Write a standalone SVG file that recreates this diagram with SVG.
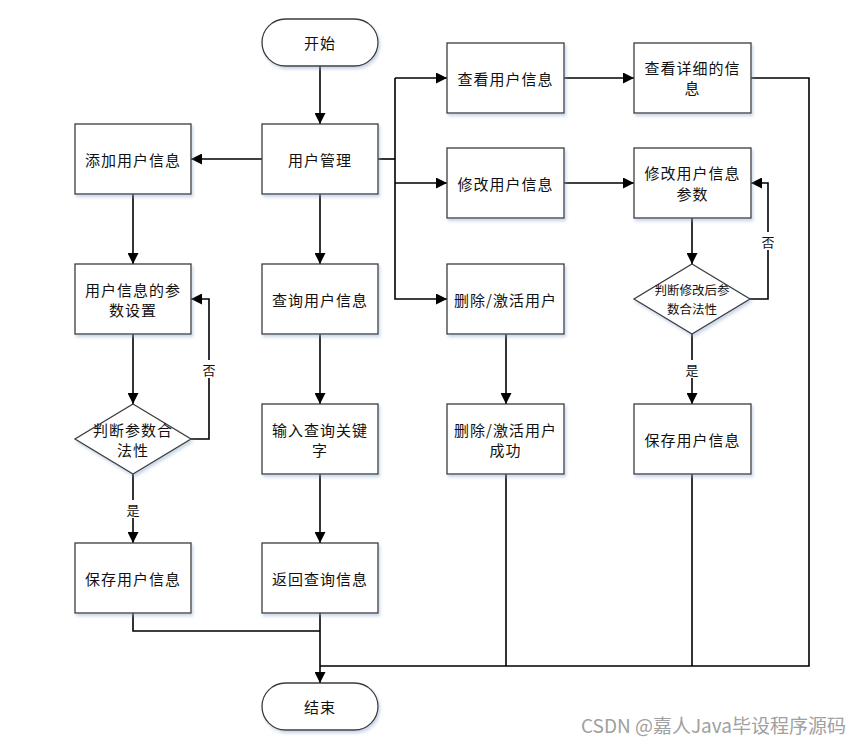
<svg xmlns="http://www.w3.org/2000/svg" width="861" height="746" viewBox="0 0 861 746">
<defs>
<style>
.box{fill:#ffffff;stroke:#3c3c3c;stroke-width:1.3;filter:url(#sh)}
.t{font-family:"Noto Sans CJK SC","Liberation Sans",sans-serif;font-size:15px;fill:#111;text-anchor:middle;dominant-baseline:central;letter-spacing:1px}
.ts{font-family:"Noto Sans CJK SC","Liberation Sans",sans-serif;font-size:13px;fill:#111;text-anchor:middle;dominant-baseline:central}
.tx{font-family:"Noto Sans CJK SC","Liberation Sans",sans-serif;font-size:12.5px;fill:#111;text-anchor:middle;dominant-baseline:central}
.c{fill:none;stroke:#000;stroke-width:1.6}
.a{marker-end:url(#ah)}
.lbg{fill:#fff}
</style>
<filter id="sh" x="-10%" y="-10%" width="130%" height="140%">
<feDropShadow dx="1.5" dy="2.5" stdDeviation="1.5" flood-color="#8aa4cc" flood-opacity="0.45"/>
</filter>
<marker id="ah" viewBox="0 0 10 10" refX="10" refY="5" markerWidth="11" markerHeight="11" orient="auto" markerUnits="userSpaceOnUse">
<path d="M0,0 L10,5 L0,10 z" fill="#000"/>
</marker>
</defs>
<rect width="861" height="746" fill="#fff"/>

<g id="connectors">
<path class="c a" d="M320,66 V124"/>
<path class="c a" d="M262,159 H191"/>
<path class="c" d="M378,159 H395"/>
<path class="c a" d="M395,78 V299 H447"/>
<path class="c a" d="M395,78 H447"/>
<path class="c a" d="M395,183 H447"/>
<path class="c a" d="M133,194 V264"/>
<path class="c a" d="M320,194 V264"/>
<path class="c a" d="M133,334 V404"/>
<path class="c a" d="M191,439 H209 V299 H191"/>
<path class="c a" d="M133,474 V543"/>
<path class="c a" d="M320,334 V404"/>
<path class="c a" d="M320,474 V543"/>
<path class="c a" d="M564,78 H634"/>
<path class="c a" d="M564,183 H634"/>
<path class="c a" d="M506,334 V404"/>
<path class="c a" d="M692,218 V264"/>
<path class="c a" d="M750,299 H768 V183 H751"/>
<path class="c a" d="M692,334 V404"/>
<path class="c" d="M751,78 H809 V666 H320"/>
<path class="c" d="M506,474 V666"/>
<path class="c" d="M692,474 V666"/>
<path class="c" d="M133,613 V631 H320"/>
<path class="c a" d="M320,613 V683"/>
<rect class="lbg" x="201" y="360" width="16" height="18"/>
<text class="ts" x="209" y="369">否</text>
<rect class="lbg" x="125" y="500" width="16" height="18"/>
<text class="ts" x="133" y="509">是</text>
<rect class="lbg" x="760" y="232" width="16" height="18"/>
<text class="ts" x="768" y="241">否</text>
<rect class="lbg" x="684" y="360" width="16" height="18"/>
<text class="ts" x="692" y="369">是</text>
</g>

<g id="start"><rect class="box" x="262" y="19" width="116" height="47" rx="23.5"/><text class="t" x="320" y="42.5">开始</text></g>
<g id="user-mgmt"><rect class="box" x="262" y="124" width="116" height="70"/><text class="t" x="320" y="159">用户管理</text></g>
<g id="add-user"><rect class="box" x="75" y="124" width="116" height="70"/><text class="t" x="133" y="159">添加用户信息</text></g>
<g id="param-set"><rect class="box" x="75" y="264" width="116" height="70"/><text class="t" x="133" y="289">用户信息的参</text><text class="t" x="133" y="309">数设置</text></g>
<g id="check1"><polygon class="box" points="133,404 191,439 133,474 75,439"/><text class="t" x="133" y="429">判断参数合</text><text class="t" x="133" y="449">法性</text></g>
<g id="save1"><rect class="box" x="75" y="543" width="116" height="70"/><text class="t" x="133" y="578">保存用户信息</text></g>
<g id="query"><rect class="box" x="262" y="264" width="116" height="70"/><text class="t" x="320" y="299">查询用户信息</text></g>
<g id="keyword"><rect class="box" x="262" y="404" width="116" height="70"/><text class="t" x="320" y="429">输入查询关键</text><text class="t" x="320" y="449">字</text></g>
<g id="return"><rect class="box" x="262" y="543" width="116" height="70"/><text class="t" x="320" y="578">返回查询信息</text></g>
<g id="end"><rect class="box" x="262" y="683" width="116" height="47" rx="23.5"/><text class="t" x="320" y="706.5">结束</text></g>
<g id="view"><rect class="box" x="447" y="43" width="117" height="70"/><text class="t" x="505.5" y="78">查看用户信息</text></g>
<g id="view-detail"><rect class="box" x="634" y="43" width="117" height="70"/><text class="t" x="692.5" y="67">查看详细的信</text><text class="t" x="692.5" y="87">息</text></g>
<g id="modify"><rect class="box" x="447" y="148" width="117" height="70"/><text class="t" x="505.5" y="183">修改用户信息</text></g>
<g id="modify-param"><rect class="box" x="634" y="148" width="117" height="70"/><text class="t" x="692.5" y="172">修改用户信息</text><text class="t" x="692.5" y="193">参数</text></g>
<g id="check2"><polygon class="box" points="692,264 750,299 692,334 634,299"/><text class="tx" x="692" y="289">判断修改后参</text><text class="tx" x="692" y="308">数合法性</text></g>
<g id="save2"><rect class="box" x="634" y="404" width="117" height="70"/><text class="t" x="692.5" y="439">保存用户信息</text></g>
<g id="delete"><rect class="box" x="447" y="264" width="117" height="70"/><text class="t" x="505.5" y="299">删除/激活用户</text></g>
<g id="delete-ok"><rect class="box" x="447" y="404" width="117" height="70"/><text class="t" x="505.5" y="429">删除/激活用户</text><text class="t" x="505.5" y="449">成功</text></g>

<text x="846" y="733" text-anchor="end" font-family="Noto Sans CJK SC,Liberation Sans,sans-serif" font-size="19" fill="#a0a0a0">CSDN @嘉人Java毕设程序源码</text>
</svg>
